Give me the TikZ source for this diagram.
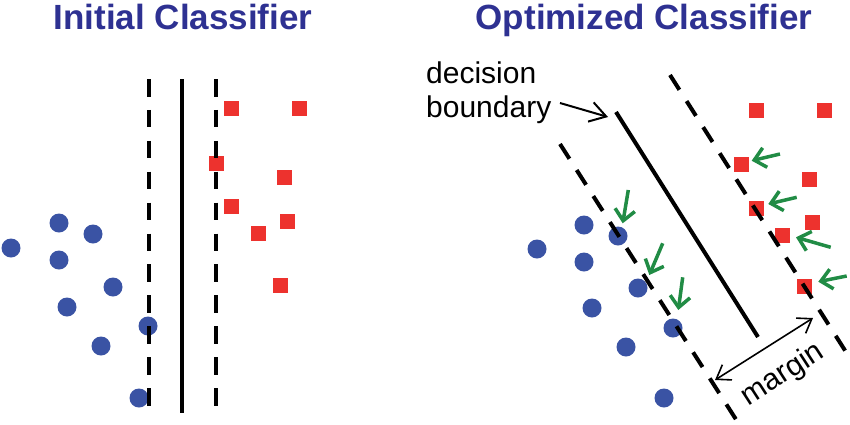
\documentclass[tikz,border=0pt]{standalone}
\usepackage{fontspec}
\setmainfont{Liberation Sans}
\usetikzlibrary{arrows.meta}
\definecolor{titleblue}{RGB}{46,49,146}
\definecolor{dotblue}{RGB}{58,83,164}
\definecolor{sqred}{RGB}{237,50,46}
\definecolor{argreen}{RGB}{33,140,69}
\begin{document}
\begin{tikzpicture}[x=1pt,y=-1pt,
 dot/.style={circle,fill=dotblue,inner sep=0pt,minimum size=19pt},
 sq/.style={rectangle,fill=sqred,inner sep=0pt,minimum size=15pt},
 title/.style={font=\fontsize{35}{40}\selectfont\bfseries,text=titleblue,inner sep=0pt},
 boundaryline/.style={line width=4pt,black},
 marginline/.style={line width=4pt,black,dash pattern=on 17.5pt off 13.4pt},
 hint/.style={line width=3.5pt,argreen,-{Straight Barb[length=11pt,width=20pt]}},
 txt/.style={font=\fontsize{30}{34}\selectfont,inner sep=0pt},
 pointer/.style={line width=2pt,-{Straight Barb[length=16pt,width=20pt]}},
 dblarrow/.style={line width=1.6pt,{Straight Barb[length=13pt,width=18pt]}-{Straight Barb[length=13pt,width=18pt]}},
]
\useasboundingbox (0,0) rectangle (850,424);

% titles
\node[title,anchor=base] (t1) at (183,29) {Initial Classifier};
\node[title,anchor=base] (t2) at (644,29) {Optimized Classifier};

% ---------- left panel ----------
\node[sq] (a1) at (231,108) {};
\node[sq] (a2) at (299,108) {};
\node[sq] (a3) at (216,163) {};
\node[sq] (a4) at (284,177) {};
\node[sq] (a5) at (231,206) {};
\node[sq] (a6) at (287,221) {};
\node[sq] (a7) at (258,233) {};
\node[sq] (a8) at (280,285) {};

\node[dot] (b1) at (59,223) {};
\node[dot] (b2) at (93,234) {};
\node[dot] (b3) at (11,248) {};
\node[dot] (b4) at (59,260) {};
\node[dot] (b5) at (113,287) {};
\node[dot] (b6) at (67,307) {};
\node[dot] (b7) at (148,326) {};
\node[dot] (b8) at (101,346) {};
\node[dot] (b9) at (139,398) {};

\coordinate (l1a) at (148.7,79);  \coordinate (l1b) at (148.7,406);
\coordinate (l2a) at (182,79);    \coordinate (l2b) at (182,413);
\coordinate (l3a) at (216,79);    \coordinate (l3b) at (216,406);
\draw[marginline] (l1a) -- (l1b);
\draw[boundaryline] (l2a) -- (l2b);
\draw[marginline] (l3a) -- (l3b);

% ---------- right panel ----------
\node[sq] (c1) at (756,110) {};
\node[sq] (c2) at (824,110) {};
\node[sq] (c3) at (741,164) {};
\node[sq] (c4) at (809,179) {};
\node[sq] (c5) at (756,208) {};
\node[sq] (c6) at (812,222) {};
\node[sq] (c7) at (782,235) {};
\node[sq] (c8) at (804,286) {};

\node[dot] (d1) at (584,225) {};
\node[dot] (d2) at (537,249) {};
\node[dot] (d3) at (618,236) {};
\node[dot] (d4) at (584,262) {};
\node[dot] (d5) at (638,288) {};
\node[dot] (d6) at (592,308) {};
\node[dot] (d7) at (673,328) {};
\node[dot] (d8) at (626,347) {};
\node[dot] (d9) at (664,398) {};

\coordinate (r1a) at (560,144); \coordinate (r1b) at (737,421);
\coordinate (r2a) at (616,112); \coordinate (r2b) at (758,337);
\coordinate (r3a) at (670,75);  \coordinate (r3b) at (846,352);
\draw[marginline] (r1a) -- (r1b);
\draw[boundaryline] (r2a) -- (r2b);
\draw[marginline] (r3a) -- (r3b);

% green hint arrows
\coordinate (g1s) at (628.3,190); \coordinate (g1e) at (622.7,223.3);
\coordinate (g2s) at (662.7,243.3); \coordinate (g2e) at (649.3,275);
\coordinate (g3s) at (682.7,277.3); \coordinate (g3e) at (678.3,310);
\coordinate (g4s) at (780,154); \coordinate (g4e) at (751.7,160.7);
\coordinate (g5s) at (796.7,197.3); \coordinate (g5e) at (768.3,204);
\coordinate (g6s) at (830.7,247.3); \coordinate (g6e) at (796,237.3);
\coordinate (g7s) at (846.7,276); \coordinate (g7e) at (818.3,281.7);
\foreach \i in {1,...,7} {\draw[hint] (g\i s) -- (g\i e);}

% decision boundary label
\node[txt,anchor=base west] (dec) at (426,83) {decision};
\node[txt,anchor=base west] (bnd) at (426,117) {boundary};
\coordinate (ps) at (560,103);
\coordinate (pe) at (608,117);
\draw[pointer] (ps) -- (pe);

% margin
\coordinate (mL) at (715,380);
\coordinate (mR) at (813,318);
\draw[dblarrow] (mL) -- (mR);
\node[txt,rotate=33] (mg) at (783,375) {margin};
\end{tikzpicture}
\end{document}
